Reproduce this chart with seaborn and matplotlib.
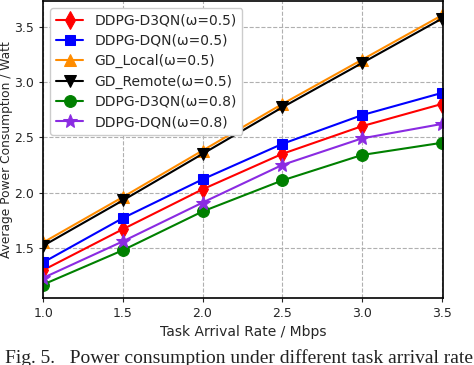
import pandas as pd
import seaborn as sns
import matplotlib
matplotlib.use('Agg')
import matplotlib.pyplot as plt

rates = [1.0, 1.5, 2.0, 2.5, 3.0, 3.5]

d3qn_05 = [1.30, 1.67, 2.03, 2.35, 2.60, 2.80]
dqn_05 = [1.37, 1.77, 2.12, 2.44, 2.70, 2.90]
gd_local = [1.55, 1.96, 2.38, 2.80, 3.20, 3.60]
gd_remote = [1.52, 1.93, 2.35, 2.77, 3.17, 3.57]
d3qn_08 = [1.17, 1.48, 1.83, 2.11, 2.34, 2.45]
dqn_08 = [1.23, 1.56, 1.91, 2.25, 2.49, 2.62]

labels = ['DDPG-D3QN(ω=0.5)', 'DDPG-DQN(ω=0.5)', 'GD_Local(ω=0.5)',
          'GD_Remote(ω=0.5)', 'DDPG-D3QN(ω=0.8)', 'DDPG-DQN(ω=0.8)']
series = [d3qn_05, dqn_05, gd_local, gd_remote, d3qn_08, dqn_08]
colors = ['red', 'blue', 'darkorange', 'black', 'green', 'blueviolet']
markers = ['d', 's', '^', 'v', 'o', '*']
sizes = [9, 7.5, 8.5, 8.5, 8.5, 10]


def build_frame():
    rows = []
    for label, vals in zip(labels, series):
        for r, v in zip(rates, vals):
            rows.append({'rate': r, 'power': v, 'method': label})
    return pd.DataFrame(rows)


def plot_power(df):
    sns.set_style('whitegrid', {'grid.linestyle': '--', 'grid.color': '#b0b0b0',
                                'axes.edgecolor': 'black'})
    fig = plt.figure(figsize=(4.74, 3.65), dpi=100)
    ax = fig.add_axes([0.091, 0.184, 0.844, 0.813])

    for label, color, marker, ms in zip(labels, colors, markers, sizes):
        sub = df[df['method'] == label]
        sns.lineplot(data=sub, x='rate', y='power', ax=ax, color=color, marker=marker,
                     markersize=ms, markeredgecolor=color, linewidth=1.5, label=label)

    ax.set_xlim(1.0, 3.51)
    ax.set_ylim(1.05, 3.73)
    ax.set_xticks([1.0, 1.5, 2.0, 2.5, 3.0, 3.5])
    ax.set_yticks([1.5, 2.0, 2.5, 3.0, 3.5])
    ax.tick_params(labelsize=9, length=3, bottom=True, left=True)
    ax.set_xlabel('Task Arrival Rate / Mbps', fontsize=10)
    ax.set_ylabel('Average Power Consumption / Watt', fontsize=8.8, labelpad=1)
    for s in ax.spines.values():
        s.set_linewidth(1.2)

    ax.legend(loc='upper left', fontsize=10, framealpha=1, handlelength=2,
              borderpad=0.4, labelspacing=0.45)

    # caption of the paper figure, cut at the bottom like the scan
    fig.text(0.01, 0.006, 'Fig. 5.   Power consumption under different task arrival rate',
             family='Liberation Serif', fontsize=14, color='#222222', va='baseline')

    fig.savefig('out.png', dpi=100)


def main():
    df = build_frame()
    plot_power(df)


if __name__ == "__main__":
    main()
